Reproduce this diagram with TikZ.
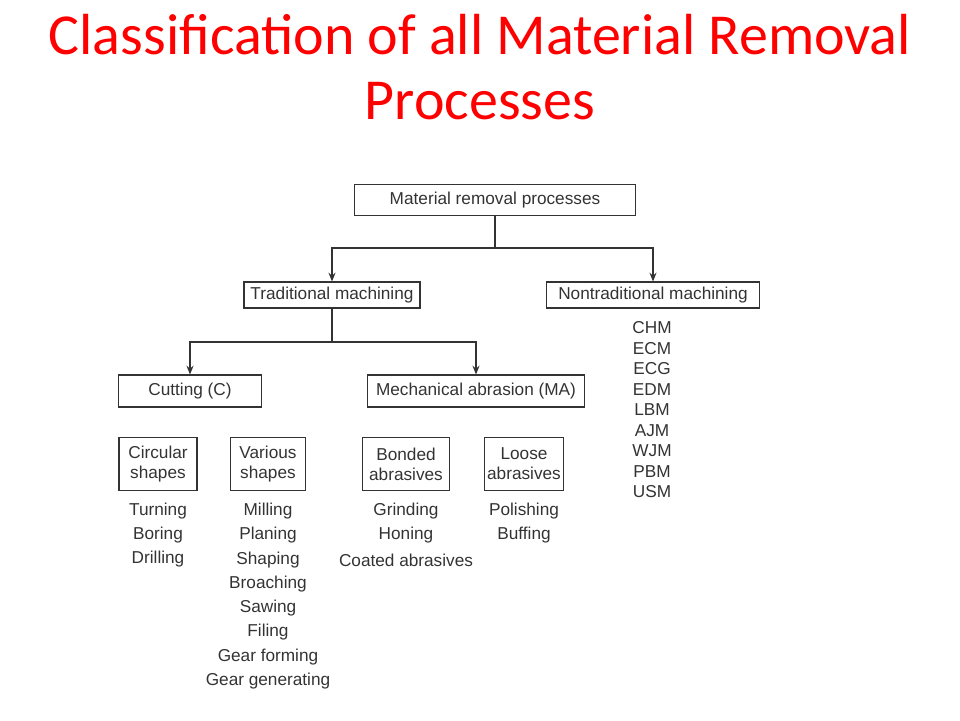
\documentclass[tikz,border=0pt]{standalone}
\usepackage{fontspec}
\setmainfont{Liberation Sans}
\newfontfamily\titlefont{Carlito}
\usepackage{tikz}
\usetikzlibrary{arrows.meta,positioning,calc}

\tikzset{
  box/.style={draw=black!80, line width=0.6pt, inner sep=0pt, align=center, font=\fontsize{9.8}{11.5}\selectfont, text=black!80},
  item/.style={inner sep=0pt, font=\fontsize{9.8}{11.5}\selectfont, text=black!80},
  conn/.style={draw=black!80, line width=0.6pt},
  arr/.style={conn, -{Stealth[length=5pt,width=4pt]}}
}

\begin{document}
\begin{tikzpicture}[x=0.02cm, y=-0.02cm]
\useasboundingbox (0,0) rectangle (960,720);

% Title
\node[text=red, font=\titlefont\fontsize{33}{37}\selectfont, align=center] (title) at (480,67) {Classification of all Material Removal\\Processes};

% Main boxes
\node[box, minimum width=281*0.02cm, minimum height=31*0.02cm] (mrp) at (495,200) {Material removal processes};
\node[box, minimum width=176*0.02cm, minimum height=26*0.02cm] (trad) at (332,295) {Traditional machining};
\node[box, minimum width=213*0.02cm, minimum height=26*0.02cm] (nontrad) at (653,295) {Nontraditional machining};
\node[box, minimum width=143*0.02cm, minimum height=32*0.02cm] (cut) at (190,391) {Cutting (C)};
\node[box, minimum width=217*0.02cm, minimum height=32*0.02cm] (abr) at (476,391) {Mechanical abrasion (MA)};

% Connectors
\coordinate (j1) at (495,248);
\draw[conn] (mrp.south) -- (j1);
\draw[arr] (j1) -| (trad.north);
\draw[arr] (j1) -| (nontrad.north);
\coordinate (j2) at (332,342);
\draw[conn] (trad.south) -- (j2);
\draw[arr] (j2) -| (cut.north);
\draw[arr] (j2) -| (abr.north);

% Sub boxes
\node[box, minimum width=78*0.02cm, minimum height=53*0.02cm] (circ) at (158,464) {Circular\\shapes};
\node[box, minimum width=75*0.02cm, minimum height=53*0.02cm] (var) at (268,464) {Various\\shapes};
\node[box, minimum width=87*0.02cm, minimum height=53*0.02cm] (bond) at (406,464) {Bonded\\abrasives};
\node[box, minimum width=79*0.02cm, minimum height=53*0.02cm] (loose) at (524,464) {Loose\\abrasives};

% Lists
\foreach \t [count=\i from 0] in {Turning,Boring,Drilling}
  \node[item] (circ\i) at (158,511+24*\i) {\t};
\foreach \t [count=\i from 0] in {Milling,Planing,Shaping,Broaching,Sawing,Filing,Gear forming,Gear generating}
  \node[item] (var\i) at (268,511+24.3*\i) {\t};
\foreach \t [count=\i from 0] in {Grinding,Honing,Coated abrasives}
  \node[item] (bond\i) at (406,511+24.5*\i) {\t};
\foreach \t [count=\i from 0] in {Polishing,Buffing}
  \node[item] (loose\i) at (524,511+24.5*\i) {\t};
\foreach \t [count=\i from 0] in {CHM,ECM,ECG,EDM,LBM,AJM,WJM,PBM,USM}
  \node[item] (nt\i) at (652,328+20.5*\i) {\t};

\end{tikzpicture}
\end{document}
